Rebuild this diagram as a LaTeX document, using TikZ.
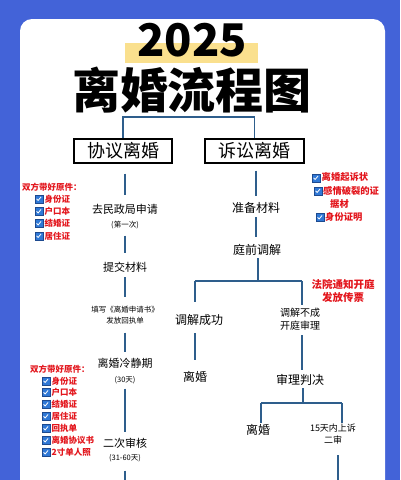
\documentclass[tikz,border=0pt]{standalone}
\usepackage{fontspec}
\setmainfont{Noto Sans CJK SC}
\definecolor{bgblue}{HTML}{4363D8}
\definecolor{lineblue}{HTML}{2E5E8C}
\definecolor{notered}{HTML}{E3151C}
\definecolor{hl}{HTML}{FAE08E}
\definecolor{chkblue}{HTML}{2F78D6}
\definecolor{chkdark}{HTML}{1D4A8F}
\tikzset{
  conn/.style={draw=lineblue, line width=1.5pt},
  boxnode/.style={draw=black, line width=1.2pt, minimum width=98pt, minimum height=24pt, inner sep=0pt, font=\fontsize{18}{20}\selectfont},
  lbl/.style={inner sep=0pt, font=\fontsize{11}{13}\selectfont},
  lblb/.style={inner sep=0pt, font=\fontsize{12}{14}\selectfont},
  mid/.style={inner sep=0pt, align=center, font=\fontsize{10}{13}\selectfont},
  tiny/.style={inner sep=0pt, align=center, font=\fontsize{7.5}{11}\selectfont},
  note/.style={inner sep=0pt, anchor=west, text=notered, font=\bfseries\fontsize{8.5}{10}\selectfont},
  noteb/.style={inner sep=0pt, anchor=west, text=notered, font=\bfseries\fontsize{9.3}{11}\selectfont},
  chk/.style={draw=chkdark, fill=chkblue, minimum size=8pt, inner sep=0pt, line width=0.6pt,
    path picture={\draw[white, line width=0.8pt] ([shift={(-2.4pt,0.2pt)}]path picture bounding box.center) -- ++(1.5pt,-1.7pt) -- ++(3pt,3.6pt);}}
}
\begin{document}
\begin{tikzpicture}[x=1pt,y=-1pt]
\useasboundingbox (0,0) rectangle (400,480);
\fill[bgblue] (0,0) rectangle (400,480);
\fill[white, rounded corners=12pt] (20,19) rectangle (385,520);
\clip (0,0) rectangle (400,480);
% title
\fill[hl] (125,43) rectangle (258,63);
\node[inner sep=0pt, font=\bfseries\fontsize{45}{50}\selectfont] (year) at (192,40) {2025};
\node[inner sep=0pt, font=\bfseries\fontsize{48}{52}\selectfont] (title) at (192,90) {离婚流程图};
% top boxes
\node[boxnode] (b1) at (123,151) {协议离婚};
\node[boxnode, minimum width=99pt] (b2) at (254.5,151) {诉讼离婚};
\coordinate (top) at (190,117);
\draw[conn] (b1.north) |- (top) -| (b2.north);
% left column
\node[lbl] (minzheng) at (125,209) {去民政局申请};
\node[tiny] (diyici) at (125,225) {(第一次)};
\node[lbl] (tijiao) at (125,267) {提交材料};
\node[tiny] (tianxie) at (125,315.5) {填写《离婚申请书》\\发放回执单};
\node[lbl] (lengjing) at (125,363) {离婚冷静期};
\node[tiny] (thirty) at (125,380) {(30天)};
\node[lbl] (erci) at (125,443) {二次审核};
\node[tiny] (days) at (125,458) {(31-60天)};
\coordinate (lend) at (125,484);
\draw[conn, shorten <=10pt, shorten >=9pt] (b1.south -| minzheng) -- (minzheng.north);
\draw[conn, shorten <=6.5pt, shorten >=9pt] (diyici.south) -- (tijiao.north);
\draw[conn, shorten <=5pt, shorten >=9.5pt] (tijiao.south) -- (tianxie.north);
\draw[conn, shorten <=8pt, shorten >=6pt] (tianxie.south) -- (lengjing.north);
\draw[conn, shorten <=4.5pt, shorten >=6pt] (thirty.south) -- (erci.north);
\draw[conn, shorten <=8.5pt] (days.south) -- (lend);
% left notes 1
\node[note] (n1) at (22,187) {双方带好原件：};
\node[chk] (c11) at (39,199) {};
\node[note] (t11) at (44.5,199) {身份证};
\node[chk] (c12) at (39,211.5) {};
\node[note] (t12) at (44.5,211.5) {户口本};
\node[chk] (c13) at (39,223.5) {};
\node[note] (t13) at (44.5,223.5) {结婚证};
\node[chk] (c14) at (39,236) {};
\node[note] (t14) at (44.5,236) {居住证};
% left notes 2
\node[note] (n2) at (30,369) {双方带好原件：};
\node[chk] (c21) at (46,381) {};
\node[note] (t21) at (51.5,381) {身份证};
\node[chk] (c22) at (46,392.5) {};
\node[note] (t22) at (51.5,392.5) {户口本};
\node[chk] (c23) at (46,404.5) {};
\node[note] (t23) at (51.5,404.5) {结婚证};
\node[chk] (c24) at (46,416.5) {};
\node[note] (t24) at (51.5,416.5) {居住证};
\node[chk] (c25) at (46,428.5) {};
\node[note] (t25) at (51.5,428.5) {回执单};
\node[chk] (c26) at (46,440.5) {};
\node[note] (t26) at (51.5,440.5) {离婚协议书};
\node[chk] (c27) at (46,452.5) {};
\node[note] (t27) at (51.5,452.5) {2寸单人照};
% right column
\node[lblb] (zhunbei) at (256,208) {准备材料};
\node[lblb] (tingqian) at (257,250) {庭前调解};
\draw[conn, shorten <=7pt, shorten >=6.5pt] (b2.south -| zhunbei) -- (zhunbei.north);
\draw[conn, shorten <=3.6pt, shorten >=7.6pt] (zhunbei.south) -- (zhunbei.south |- tingqian.north);
\coordinate (fork) at (258,281);
\coordinate (fl) at (195,281);
\coordinate (fr) at (302,281);
\draw[conn, shorten <=2.6pt] (tingqian.south -| fork) -- (fork);
\node[lblb] (chenggong) at (199,320) {调解成功};
\node[mid] (bucheng) at (300,319.5) {调解不成\\开庭审理};
\draw[conn] (fl) -- (fr);
\draw[conn, shorten >=12.6pt] (fl) -- (fl |- chenggong.north);
\draw[conn, shorten >=3.5pt] (fr) -- (fr |- bucheng.north);
\node[lblb] (lihun1) at (195,377) {离婚};
\draw[conn, shorten <=7.6pt, shorten >=11.6pt] (lihun1.north |- chenggong.south) -- (lihun1.north);
\node[lblb] (shenli) at (300,380) {审理判决};
\draw[conn, shorten <=4.5pt, shorten >=4.6pt] (fr |- bucheng.south) -- (fr |- shenli.north);
\coordinate (fork2) at (303,403);
\coordinate (fl2) at (261,403);
\coordinate (fr2) at (342,403);
\draw[conn, shorten <=2.6pt] (shenli.south -| fork2) -- (fork2);
\node[lblb] (lihun2) at (258,430) {离婚};
\node[inner sep=0pt, align=center, font=\fontsize{9}{12}\selectfont] (shangsu) at (333,434) {15天内上诉\\二审};
\draw[conn] (fl2) -- (fr2);
\draw[conn, shorten >=1.6pt] (fl2) -- (fl2 |- lihun2.north);
\draw[conn, shorten >=1pt] (fr2) -- (fr2 |- shangsu.north);
\coordinate (rend) at (338,484);
\draw[conn, shorten <=11pt] (rend |- shangsu.south) -- (rend);
% right notes
\node[inner sep=0pt, text=notered, font=\bfseries\fontsize{10.5}{13}\selectfont, align=center] (fayuan) at (343,290.5) {法院通知开庭\\发放传票};
\node[chk] (r1) at (316,178) {};
\node[noteb] (rt1) at (321.5,177) {离婚起诉状};
\node[chk] (r2) at (318,191) {};
\node[noteb] (rt2) at (323,190.5) {感情破裂的证};
\node[noteb] (rt2b) at (330,204) {据材};
\node[chk] (r3) at (320,217.5) {};
\node[noteb] (rt3) at (325,217) {身份证明};
\end{tikzpicture}
\end{document}
